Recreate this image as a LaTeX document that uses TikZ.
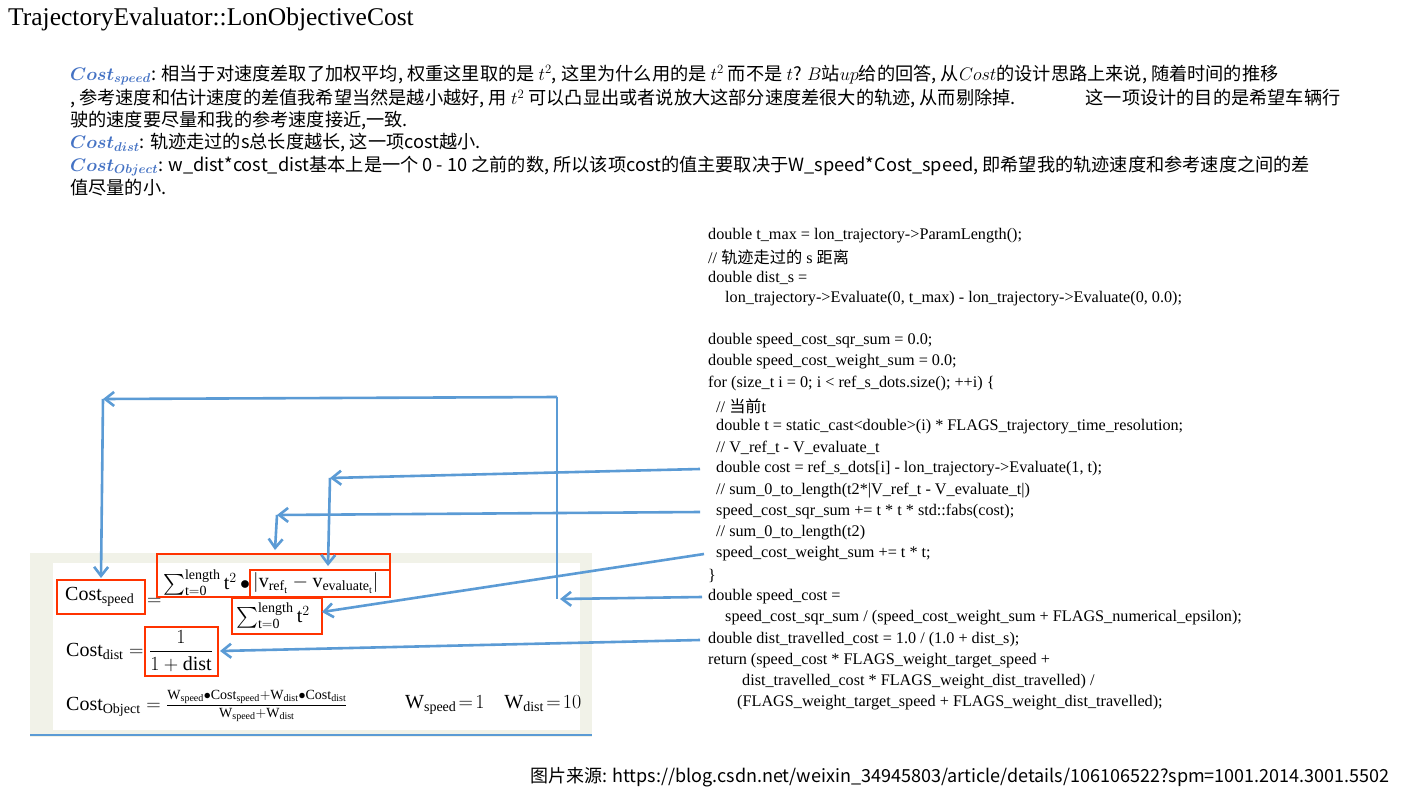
\RequirePackage{fix-cm}
\documentclass[tikz,border=0pt]{standalone}
\usepackage{amsmath,bm}
\usepackage{fontspec}
\setmainfont{Liberation Serif}
\newfontfamily\cjk{Noto Sans CJK SC}
\usetikzlibrary{arrows.meta}
\definecolor{ablue}{HTML}{5B9BD5}
\definecolor{rbox}{HTML}{FF3300}
\definecolor{lblue}{HTML}{4472C4}
\definecolor{panel}{HTML}{F1F2E8}
\begin{document}
\begin{tikzpicture}[x=1pt,y=-1pt,
  codeline/.style={anchor=west,inner sep=0,font=\fontsize{16.2}{19}\selectfont},
  para/.style={anchor=west,inner sep=0,font=\cjk\fontsize{18.2}{20}\selectfont},
  rb/.style={draw=rbox,line width=2.6pt,fill=none},
  conn/.style={draw=ablue,line width=2.6pt,-{Straight Barb[length=9pt,width=14pt]}},
  plain/.style={draw=ablue,line width=2.6pt},
  fm/.style={inner sep=0,font=\fontsize{20}{22}\selectfont}]
\useasboundingbox (0,0) rectangle (1413,792);
\fill[white] (0,0) rectangle (1413,792);
\node[anchor=west,inner sep=0,font=\fontsize{25.5}{28}\selectfont] (title) at (8,19) {TrajectoryEvaluator::LonObjectiveCost};
\newcommand{\cs}[1]{\textcolor{lblue}{$\bm{Cost}_{\bm{#1}}$}}
\node[para] (p1) at (70,75) {\cs{speed}: 相当于对速度差取了加权平均, 权重这里取的是 $t^2$, 这里为什么用的是 $t^2$ 而不是 $t$? $B$站$up$给的回答, 从$Cost$的设计思路上来说, 随着时间的推移};
\node[para] (p2) at (70,99) {, 参考速度和估计速度的差值我希望当然是越小越好, 用 $t^2$ 可以凸显出或者说放大这部分速度差很大的轨迹, 从而剔除掉.\hspace{70pt}这一项设计的目的是希望车辆行};
\node[para] (p3) at (70,121) {驶的速度要尽量和我的参考速度接近,一致.};
\node[para] (p4) at (70,143) {\cs{dist}: 轨迹走过的s总长度越长, 这一项cost越小.};
\node[para] (p5) at (70,166) {\cs{Object}: w\_dist*cost\_dist基本上是一个 0 - 10 之前的数, 所以该项cost的值主要取决于W\_speed*Cost\_speed, 即希望我的轨迹速度和参考速度之间的差};
\node[para] (p6) at (70,188) {值尽量的小.};
% code
\node[codeline] (c1) at (708,236) {double t\_max = lon\_trajectory->ParamLength();};
\node[codeline] (c2) at (708,257) {// {\cjk 轨迹走过的} s {\cjk 距离}};
\node[codeline] (c3) at (708,278) {double dist\_s =};
\node[codeline] (c4) at (725,299) {lon\_trajectory->Evaluate(0, t\_max) - lon\_trajectory->Evaluate(0, 0.0);};
\node[codeline] (c6) at (708,341) {double speed\_cost\_sqr\_sum = 0.0;};
\node[codeline] (c7) at (708,362) {double speed\_cost\_weight\_sum = 0.0;};
\node[codeline] (c8) at (708,384) {for (size\_t i = 0; i < ref\_s\_dots.size(); ++i) \{};
\node[codeline] (c9) at (716,406) {// {\cjk 当前}t};
\node[codeline] (c10) at (716,427) {double t = static\_cast<double>(i) * FLAGS\_trajectory\_time\_resolution;};
\node[codeline] (c11) at (716,448) {// V\_ref\_t - V\_evaluate\_t};
\node[codeline] (c12) at (716,469) {double cost = ref\_s\_dots[i] - lon\_trajectory->Evaluate(1, t);};
\node[codeline] (c13) at (716,491) {// sum\_0\_to\_length(t2*|V\_ref\_t - V\_evaluate\_t|)};
\node[codeline] (c14) at (716,512) {speed\_cost\_sqr\_sum += t * t * std::fabs(cost);};
\node[codeline] (c15) at (716,533) {// sum\_0\_to\_length(t2)};
\node[codeline] (c16) at (716,554) {speed\_cost\_weight\_sum += t * t;};
\node[codeline] (c17) at (708,576) {\}};
\node[codeline] (c18) at (708,597) {double speed\_cost =};
\node[codeline] (c19) at (725,618) {speed\_cost\_sqr\_sum / (speed\_cost\_weight\_sum + FLAGS\_numerical\_epsilon);};
\node[codeline] (c20) at (708,640) {double dist\_travelled\_cost = 1.0 / (1.0 + dist\_s);};
\node[codeline] (c21) at (708,661) {return (speed\_cost * FLAGS\_weight\_target\_speed +};
\node[codeline] (c22) at (742,682) {dist\_travelled\_cost * FLAGS\_weight\_dist\_travelled) /};
\node[codeline] (c23) at (737,703) {(FLAGS\_weight\_target\_speed + FLAGS\_weight\_dist\_travelled);};
% formula panel
\fill[panel] (30,553) rectangle (592,737);
\fill[white] (53,563) rectangle (580,730);
\draw[ablue,line width=2.6pt] (30,735) -- (592,735);
\node[fm,anchor=west] (cspeed) at (65,597) {$\mathrm{Cost}_{\mathrm{speed}}$};
\node[fm,anchor=west] (eq1) at (147,602) {$=$};
\node[fm,anchor=west] (num) at (163,583) {$\sum_{\mathrm{t=0}}^{\mathrm{length}}\mathrm{t}^2\,\bullet$};
\node[fm,anchor=west] (absv) at (253,583) {$|\mathrm{v}_{\mathrm{ref}_\mathrm{t}}-\mathrm{v}_{\mathrm{evaluate}_\mathrm{t}}|$};
\node[fm,anchor=west] (den) at (236,616) {$\sum_{\mathrm{t=0}}^{\mathrm{length}}\mathrm{t}^2$};
\node[fm,anchor=west] (cdist) at (66,651) {$\mathrm{Cost}_{\mathrm{dist}}=$};
\node[fm] (frac) at (181,651) {$\dfrac{1}{1+\mathrm{dist}}$};
\node[fm,anchor=west] (cobj) at (66,706) {$\mathrm{Cost}_{\mathrm{Object}}=\frac{\mathrm{W_{speed}\bullet Cost_{speed}+W_{dist}\bullet Cost_{dist}}}{\mathrm{W_{speed}+W_{dist}}}$};
\node[fm,anchor=west] (w) at (405,705) {$\mathrm{W_{speed}}\!=\!1\quad \mathrm{W_{dist}}\!=\!10$};
\draw[rb] (57,580) rectangle (145,614);
\draw[rb] (157,554) rectangle (390,597);
\draw[rb] (250,570) rectangle (390,597);
\draw[rb] (232,598) rectangle (322,634);
\draw[rb] (145,627) rectangle (218,676);
\coordinate (bs) at (101,578);
\coordinate (bnum) at (328,566);
\coordinate (babs) at (275,550);
\coordinate (bden) at (322,612);
\coordinate (bfrac) at (220,651);
% connectors
\coordinate (v1) at (557,397);
\coordinate (v2) at (557,599);
\coordinate (k1) at (103,399);
\draw[plain] (v1) -- (v2);
\draw[conn] (c18.west) ++(-6,0) -- (v2 -| 560,0);
\draw[conn] (v1) -- (k1);
\draw[conn] (k1) -- (bs);
\coordinate (k2) at (330,478);
\draw[conn] (c12.west) ++(-16,0) -- (k2);
\draw[conn] (k2) -- (bnum);
\coordinate (k3) at (277,515);
\draw[conn] (c14.west) ++(-16,0) -- (k3);
\draw[conn] (k3) -- (babs);
\draw[conn] (c16.west) ++(-12,0) -- (bden);
\draw[conn] (c20.west) ++(-8,0) -- (bfrac);
\node[anchor=west,inner sep=0,font=\cjk\fontsize{18}{20}\selectfont] (src) at (530,777) {图片来源: https://blog.csdn.net/weixin\_34945803/article/details/106106522?spm=1001.2014.3001.5502};
\end{tikzpicture}
\end{document}
